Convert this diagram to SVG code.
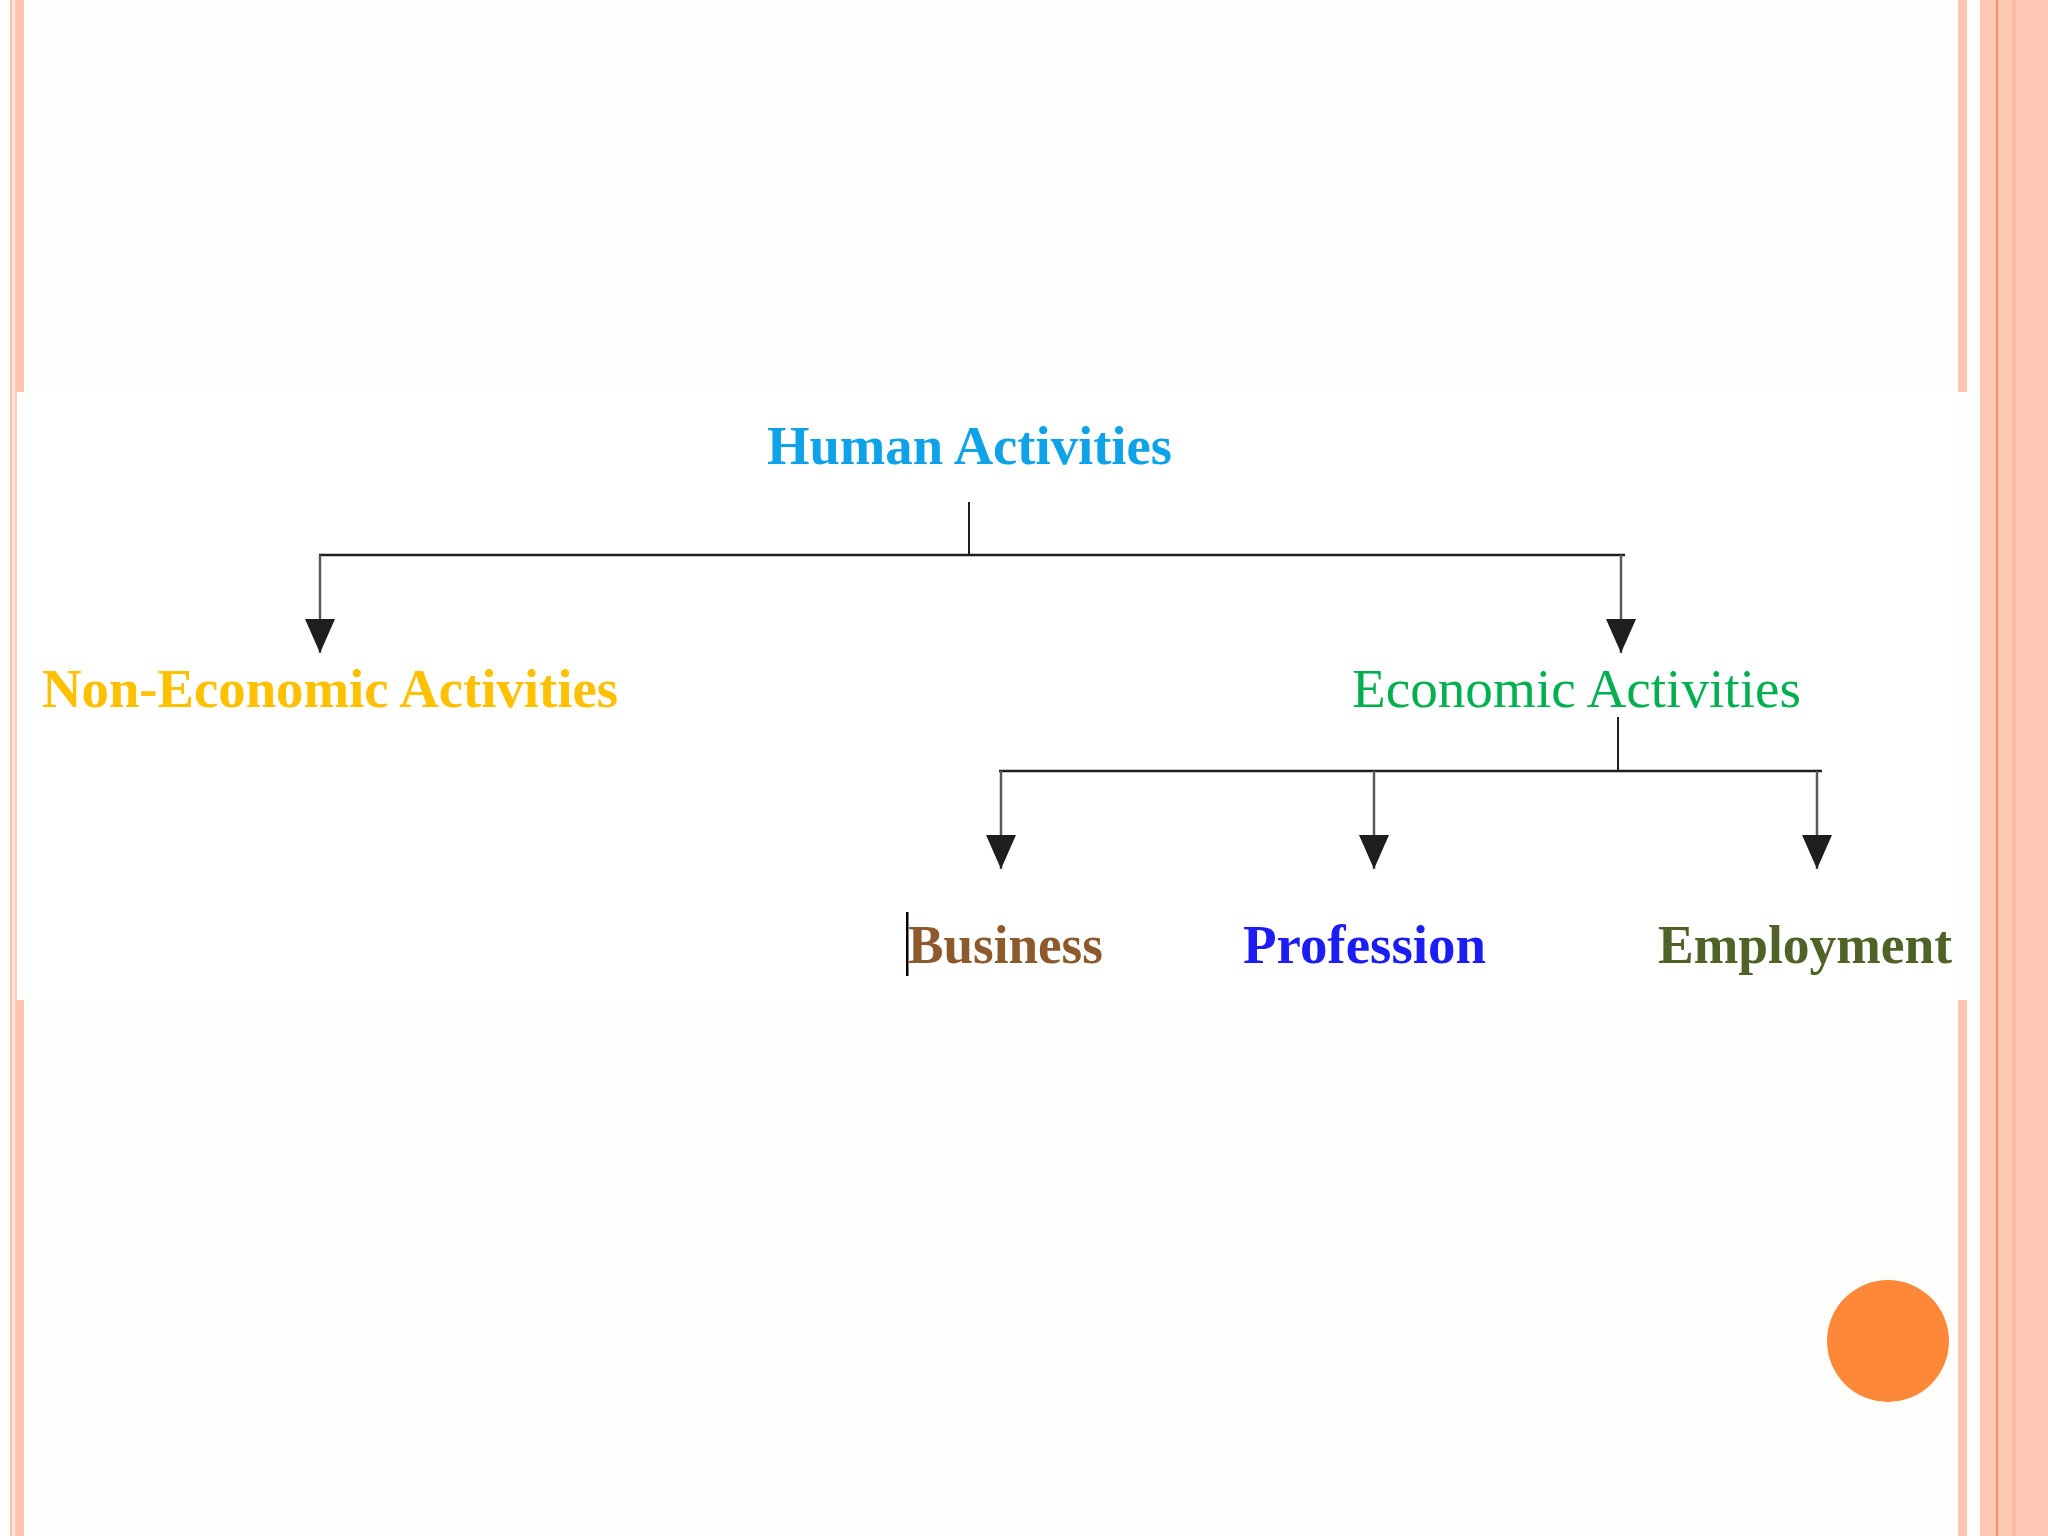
<svg xmlns="http://www.w3.org/2000/svg" width="2048" height="1536" viewBox="0 0 2048 1536">
<defs>
<style>
.lbl{font-family:"Liberation Serif","Times New Roman",serif;}
.b{font-weight:bold;}
.bar{stroke:#1e1e1e;stroke-width:2.5;fill:none;}
.drop{stroke:#5a5a5a;stroke-width:2.5;fill:none;marker-end:url(#ah);}
.stem{stroke:#1e1e1e;stroke-width:2;fill:none;}
</style>
<marker id="ah" viewBox="0 0 34 30" refX="34" refY="15" markerWidth="34" markerHeight="30" markerUnits="userSpaceOnUse" orient="auto">
<path d="M0,0 L34,15 L0,30 z" fill="#1e1e1e"/>
</marker>
</defs>
<rect x="0" y="0" width="2048" height="1536" fill="#fdfdfb"/>
<g id="frame">
<rect x="16" y="392" width="1942" height="608" fill="#ffffff"/>
<rect x="10" y="0" width="2" height="1536" fill="#f7c2b2"/>
<rect x="12" y="0" width="3" height="1536" fill="#fde4dc"/>
<rect x="15" y="0" width="2" height="1536" fill="#f9ccbc"/>
<rect x="16" y="0" width="8" height="392" fill="#fcc4ae"/>
<rect x="16" y="1000" width="8" height="536" fill="#fcc4ae"/>
<rect x="1958" y="0" width="9" height="392" fill="#fdc6b3"/>
<rect x="1958" y="1000" width="9" height="536" fill="#fdc6b3"/>
<rect x="1980" y="0" width="68" height="1536" fill="#fdc8b4"/>
<rect x="1996" y="0" width="2" height="1536" fill="#fa8f5c"/>
<rect x="2012" y="0" width="4" height="1536" fill="#fcbba4"/>
</g>
<g id="connectors">
<line class="stem" x1="969" y1="502" x2="969" y2="555"/>
<line class="bar" x1="319" y1="555" x2="1625" y2="555"/>
<line class="drop" x1="320" y1="555" x2="320" y2="653"/>
<line class="drop" x1="1621" y1="555" x2="1621" y2="653"/>
<line class="stem" x1="1618" y1="717" x2="1618" y2="771"/>
<line class="bar" x1="999" y1="771" x2="1822" y2="771"/>
<line class="drop" x1="1001" y1="771" x2="1001" y2="869"/>
<line class="drop" x1="1374" y1="771" x2="1374" y2="869"/>
<line class="drop" x1="1817" y1="771" x2="1817" y2="869"/>
</g>
<g id="node-human">
<text class="lbl b" x="767" y="464" font-size="54" fill="#0ea2e8" textLength="405" lengthAdjust="spacingAndGlyphs">Human Activities</text>
</g>
<g id="node-noneconomic">
<text class="lbl b" x="42" y="707" font-size="54" fill="#ffc000" textLength="576" lengthAdjust="spacingAndGlyphs">Non-Economic Activities</text>
</g>
<g id="node-economic">
<text class="lbl" x="1352" y="707" font-size="55" fill="#00b050" textLength="449" lengthAdjust="spacingAndGlyphs">Economic Activities</text>
</g>
<g id="node-business">
<rect x="906" y="912" width="2.5" height="64" fill="#000000"/>
<text class="lbl b" x="908" y="963" font-size="54" fill="#8c5a2d" textLength="195" lengthAdjust="spacingAndGlyphs">Business</text>
</g>
<g id="node-profession">
<text class="lbl b" x="1243" y="963" font-size="54" fill="#1c1cf5" textLength="243" lengthAdjust="spacingAndGlyphs">Profession</text>
</g>
<g id="node-employment">
<text class="lbl b" x="1658" y="963" font-size="54" fill="#4f6228" textLength="294" lengthAdjust="spacingAndGlyphs">Employment</text>
</g>
<circle cx="1888" cy="1341" r="61" fill="#fd8838"/>
</svg>
